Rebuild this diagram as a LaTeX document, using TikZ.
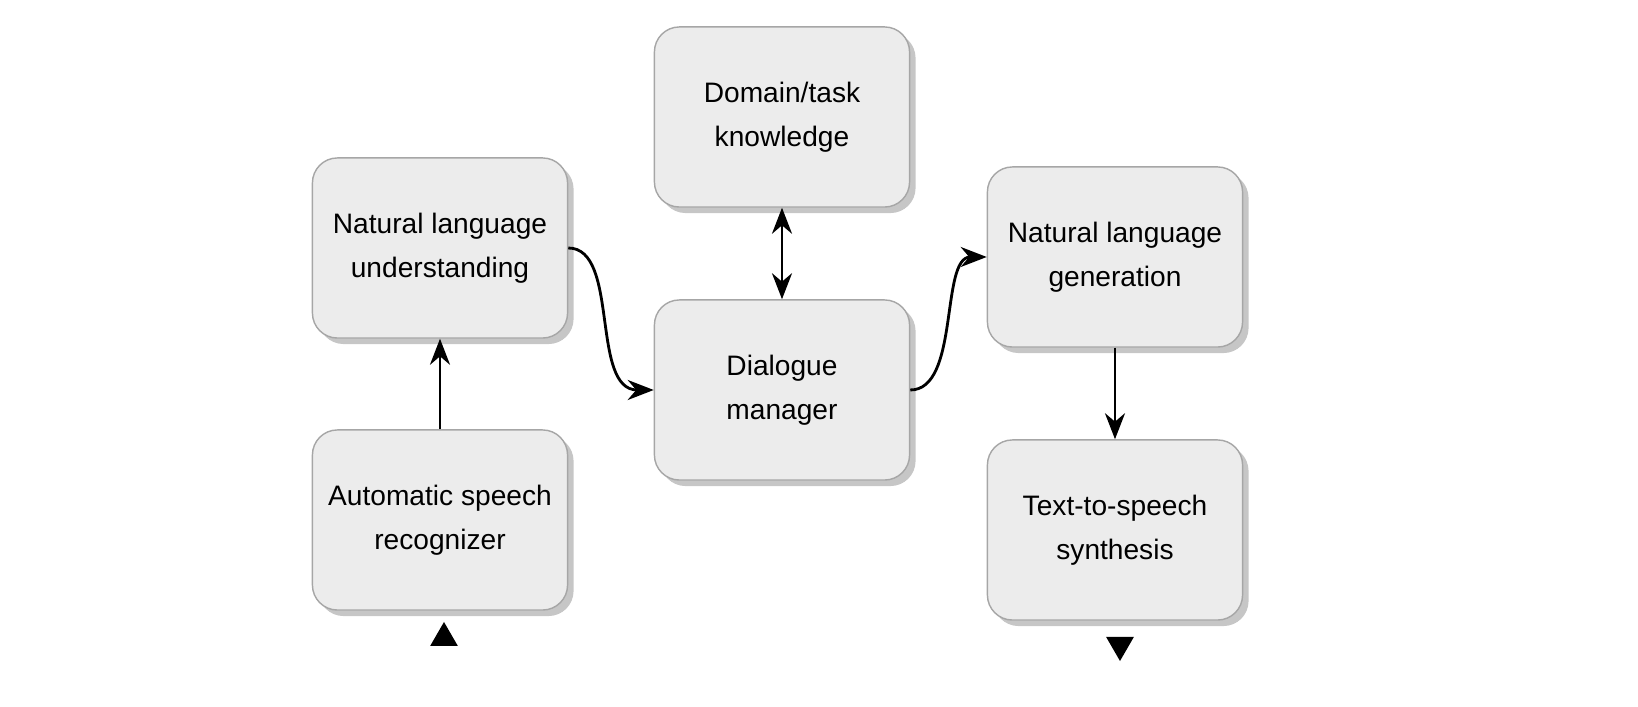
\documentclass[tikz,border=0pt]{standalone}
\usepackage{fontspec}
\setmainfont{Liberation Sans}
\usetikzlibrary{shapes}
\usetikzlibrary{positioning}
\usetikzlibrary{shadows}
\usetikzlibrary{arrows.meta}
\begin{document}
\begin{tikzpicture}[->,>={Stealth[length=2.6mm,width=2mm]},x=0.01cm,y=-0.01cm,
            box/.style = {draw=gray!70,rounded corners=2.5mm,fill=gray!15,
                minimum width=2.55cm,minimum height=1.8cm,align=center,
                font=\fontsize{8}{12.5}\selectfont,
                drop shadow={shadow xshift=0.6mm,shadow yshift=-0.6mm,opacity=0.45}},
            tri/.style = {regular polygon,regular polygon sides=3,fill=black,
                inner sep=0pt,minimum size=3.2mm}]
            \useasboundingbox (0,0) rectangle (1638,707);
            \node[box](nlu) at (440,248) {Natural language\\understanding};
            \node[box](asr) at (440,520) {Automatic speech\\recognizer};
            \node[box](dom) at (782,117) {Domain/task\\knowledge};
            \node[box](dm) at (782,390) {Dialogue\\manager};
            \node[box](nlg) at (1115,257) {Natural language\\generation};
            \node[box](tts) at (1115,530) {Text-to-speech\\synthesis};
            \node[tri](in) at (444,638) {};
            \node[tri,shape border rotate=180](out) at (1120,645) {};
            \draw[thick] (asr) -- (nlu);
            \draw[thick,<->] (dom) -- (dm);
            \draw[thick] (nlg) -- (tts);
            \draw[thick] (nlu.east) .. controls (620,248) and (590,390) .. (dm.west);
            \draw[thick] (dm.east) .. controls (960,390) and (940,257) .. (nlg.west);
        \end{tikzpicture}
\end{document}
